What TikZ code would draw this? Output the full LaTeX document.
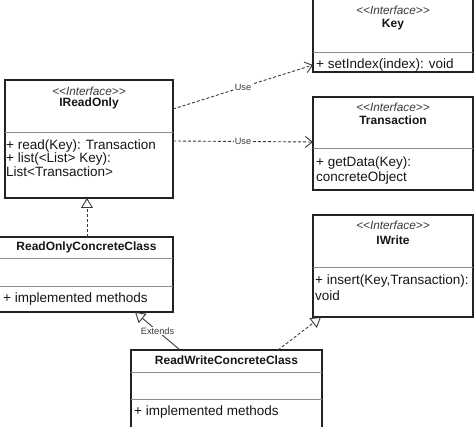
\documentclass[tikz,border=0pt]{standalone}
\usepackage{fontspec}
\newfontfamily\umlfont{Liberation Sans}
\usetikzlibrary{arrows.meta}
\definecolor{edge}{HTML}{222222}
\definecolor{divc}{HTML}{8C8C8C}
\definecolor{ink}{HTML}{161616}
\definecolor{stc}{HTML}{3A3A3A}
\tikzset{
 box/.style={draw=edge, line width=1.1pt, fill=white, anchor=north west, inner sep=0pt, outer sep=0pt},
 div/.style={draw=divc, line width=0.9pt},
 stereo/.style={font=\umlfont\itshape\fontsize{11.8}{11.8}\selectfont, text=stc, inner sep=0pt},
 ttl/.style={font=\umlfont\bfseries\fontsize{12}{12}\selectfont, text=ink, inner sep=0pt},
 body/.style={font=\umlfont\fontsize{13.5}{15.5}\selectfont, text=ink, inner sep=0pt, anchor=west, align=left},
 lbl/.style={font=\umlfont\fontsize{9.2}{9.2}\selectfont, text=stc, fill=white, inner sep=0.6pt},
 use/.style={draw=stc, line width=0.9pt, dash pattern=on 3pt off 2pt, -{Straight Barb[length=7pt,width=11pt]}},
 real/.style={draw=stc, line width=0.9pt, dash pattern=on 3pt off 2pt, -{Triangle[open, length=10pt, width=12pt]}},
 gen/.style={draw=stc, line width=0.9pt, -{Triangle[open, length=10pt, width=12pt]}},
}
\begin{document}
\begin{tikzpicture}[x=1pt,y=-1pt]
\useasboundingbox[fill=white] (0,0) rectangle (474,427);
% boxes
\node[box, minimum width=160pt, minimum height=73pt] (key) at (313,-1) {};
\node[box, minimum width=168pt, minimum height=118pt] (iro) at (5,80) {};
\node[box, minimum width=160pt, minimum height=93pt] (tra) at (313,97) {};
\node[box, minimum width=160pt, minimum height=102pt] (iwr) at (313,215) {};
\node[box, minimum width=173.5pt, minimum height=75pt] (roc) at (-0.5,237) {};
\node[box, minimum width=191pt, minimum height=78pt] (rwc) at (131,350) {};
% dividers
\draw[div] ([yshift=-53pt]key.north west) -- ([yshift=-53pt]key.north east);
\draw[div] ([yshift=-52pt]iro.north west) -- ([yshift=-52pt]iro.north east);
\draw[div] ([yshift=-51pt]tra.north west) -- ([yshift=-51pt]tra.north east);
\draw[div] ([yshift=-52pt]iwr.north west) -- ([yshift=-52pt]iwr.north east);
\draw[div] ([yshift=-21pt]roc.north west) -- ([yshift=-21pt]roc.north east);
\draw[div] ([yshift=-49pt]roc.north west) -- ([yshift=-49pt]roc.north east);
\draw[div] ([yshift=-22pt]rwc.north west) -- ([yshift=-22pt]rwc.north east);
\draw[div] ([yshift=-49pt]rwc.north west) -- ([yshift=-49pt]rwc.north east);
% texts
\node[stereo] (ks) at (393,10) {<<Interface>>};
\node[ttl] (kn) at (393,25) {Key};
\node[body] (km) at (316,65) {+ setIndex(index): void};
\node[stereo] (is) at (89,91) {<<Interface>>};
\node[ttl] (in) at (89,103) {IReadOnly};
\node[body, font=\umlfont\fontsize{13.5}{11.6}\selectfont] (im) at (6,158) {+ read(Key): Transaction\\+ list(<List> Key):\\List<Transaction>};
\node[stereo] (ts) at (393,107) {<<Interface>>};
\node[ttl] (tn) at (393,120) {Transaction};
\node[body, font=\umlfont\fontsize{13.5}{15}\selectfont] (tm) at (316,170.5) {+ getData(Key):\\concreteObject};
\node[stereo] (ws) at (393,225) {<<Interface>>};
\node[ttl] (wn) at (393,240) {IWrite};
\node[body, font=\umlfont\fontsize{13.5}{16}\selectfont] (wm) at (315,288) {+ insert(Key,Transaction):\\void};
\node[ttl] (rn) at (86.5,247) {ReadOnlyConcreteClass};
\node[body] (rm) at (3,299) {+ implemented methods};
\node[ttl] (wwn) at (226.5,360) {ReadWriteConcreteClass};
\node[body] (wwm) at (134,412) {+ implemented methods};
% connectors
\draw[use] ([yshift=30pt]iro.east) -- node[lbl] (u1) {Use} ([yshift=-29.5pt]key.west);
\draw[use] ([yshift=-2pt]iro.east) -- node[lbl] (u2) {Use} ([yshift=1.5pt]tra.west);
\draw[real] ([xshift=0.75pt]roc.north) -- ([xshift=0.75pt]roc.north |- iro.south);
\draw[gen] ([xshift=49pt]rwc.north west) -- node[lbl] (ext) {Extends} ([xshift=135.5pt]roc.south west);
\draw[real] ([xshift=147pt]rwc.north west) -- ([xshift=8pt]iwr.south west);
\end{tikzpicture}
\end{document}
